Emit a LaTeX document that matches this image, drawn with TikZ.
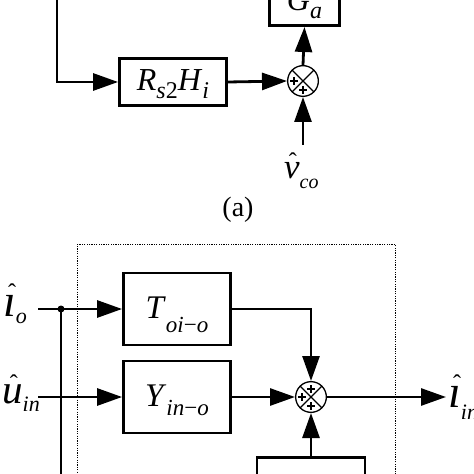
\documentclass[tikz,border=0pt]{standalone}
\usepackage{fontspec}
\setmainfont{Liberation Serif}
\usetikzlibrary{arrows.meta}
\newcommand\fsz[1]{\fontsize{#1bp}{#1bp}\selectfont}
\newcommand\lsub[3]{\raisebox{-#1bp}{\fsz{#2}#3}}
% letter with a small circumflex above: #1 letter, #2 raise, #3 horizontal shift
\newcommand\hatl[3]{{\ooalign{#1\cr\hidewidth\kern#3bp\raisebox{#2bp}{\fsz{24}\upshape ˆ}\hidewidth\cr}}}
\tikzset{
  x=1bp,y=-1bp,
  blk/.style={draw,line width=2.8bp,inner sep=0pt},
  wire/.style={line width=2.8bp},
  arr/.style={wire,-{Triangle[length=25bp,width=17bp]}},
  sumc/.style={circle,draw,line width=1.3bp,minimum size=30.7bp,inner sep=0pt,
     path picture={\draw[line width=1.3bp] (path picture bounding box.north west)--(path picture bounding box.south east) (path picture bounding box.north east)--(path picture bounding box.south west);}},
  plusl/.style={line width=1.2bp},
  dotn/.style={circle,fill,inner sep=0pt,minimum size=7bp},
  frame/.style={draw,line width=0.9bp,dash pattern=on 1.2bp off 1.2bp,inner sep=0pt},
  lbl/.style={inner sep=0pt,anchor=base west},
}
\newcommand\plusat[2]{\draw[plusl] ([shift={#2}]#1) +(-4,0) -- +(4,0) +(0,-4) -- +(0,4);}
\begin{document}
\begin{tikzpicture}
\useasboundingbox (0,0) rectangle (474,474);
\clip (0,0) rectangle (474,474);
% ---- part (a)
\node[blk,minimum width=107bp,minimum height=47bp,text height=21bp,text depth=3bp] (R) at (173,82) {\fsz{32}\textit{R}\lsub{8}{24}{\textit{s}2}\textit{H}\lsub{8}{24}{\textit{i}}};
\node[blk,minimum width=70bp,minimum height=49bp,text height=21bp,text depth=3bp,anchor=south] (G) at (304.5,27) {\fsz{32}\textit{G}\lsub{8}{24}{\textit{a}}};
\node[sumc] (s1) at (303,81) {};
\plusat{s1}{(-9,0)}
\plusat{s1}{(0,9)}
\coordinate (fb) at (57,-5);
\coordinate (vc) at (303,145);
\draw[arr] (fb) |- (R.west);
\draw[arr] (R.east) -- (s1.west);
\draw[arr] (s1.north) -- (G.south);
\draw[arr] (vc) -- (s1.south);
\node[lbl] (vlab) at (284,179) {\fsz{35}\hatl{\textit{v}}{9}{2}\lsub{10}{20}{\textit{co}}};
\node (cap) at (238,210) {\fsz{28}(a)};
% ---- part (b)
\node[frame,anchor=north west,minimum width=318bp,minimum height=260bp] (F) at (77,244) {};
\node[blk,minimum width=107bp,minimum height=72bp,text height=22bp,text depth=3bp] (T) at (177,309) {\fsz{33}\textit{T}\lsub{14}{23}{\textit{oi}−\textit{o}}};
\node[blk,minimum width=107bp,minimum height=72bp,text height=22bp,text depth=3bp] (Y) at (177,397) {\fsz{33}\textit{Y}\lsub{9}{23}{\textit{in}−\textit{o}}};
\node[sumc] (s2) at (311,397) {};
\plusat{s2}{(0,-8)}
\plusat{s2}{(-9,0)}
\plusat{s2}{(0,9)}
\node[blk,minimum width=108bp,minimum height=60bp,anchor=north] (B) at (311,456) {};
\node[dotn] (j) at (61,309) {};
\coordinate (io) at (38,309);
\coordinate (ui) at (38,397);
\coordinate (jb) at (61,480);
\coordinate (out) at (446,397);
\draw[arr] (io) -- (T.west);
\draw[wire] (j.center) -- (jb);
\draw[arr] (ui) -- (Y.west);
\draw[arr] (T.east) -| (s2.north);
\draw[arr] (Y.east) -- (s2.west);
\draw[arr] (s2.east) -- (out);
\draw[arr] (B.north) -- (s2.south);
\node[lbl] (iol) at (3,316) {\fsz{46}\hatl{\textit{ı}}{16}{5}\lsub{7}{22}{\textit{o}}};
\node[lbl] (uil) at (2,403) {\fsz{41}\hatl{\textit{u}}{12}{3}\lsub{8}{22}{\textit{in}}};
\node[lbl] (iil) at (448,407) {\fsz{46}\hatl{\textit{ı}}{16}{5}\lsub{12}{22}{\textit{in}}};
\end{tikzpicture}
\end{document}
